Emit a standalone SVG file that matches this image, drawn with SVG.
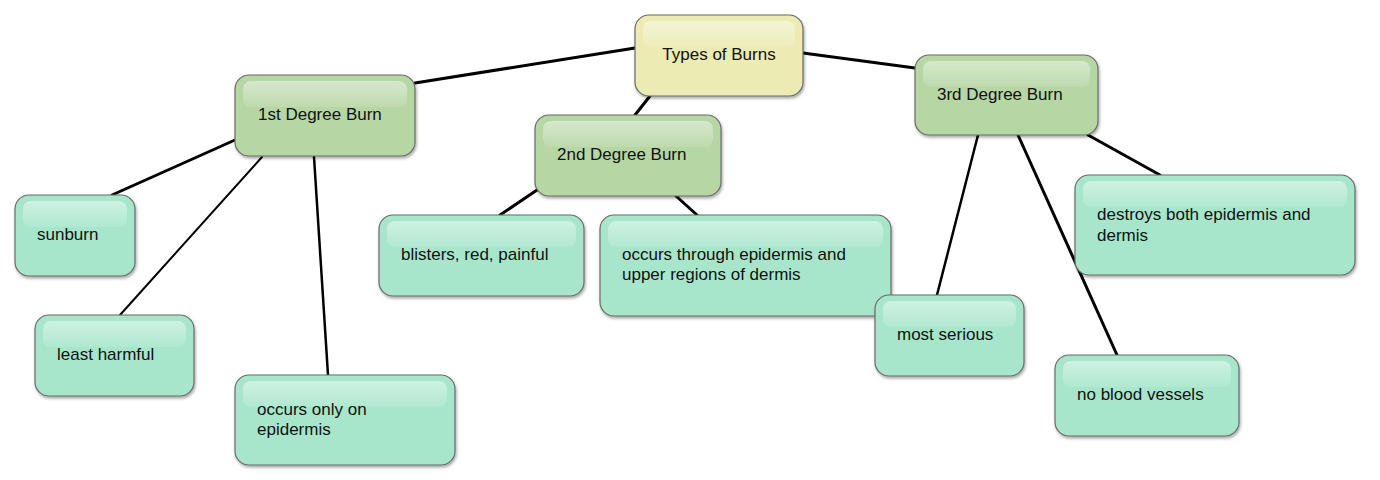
<svg xmlns="http://www.w3.org/2000/svg" width="1380" height="480" viewBox="0 0 1380 480">
<defs>
<linearGradient id="gl" x1="0" y1="0" x2="0" y2="1"><stop offset="0" stop-color="#fff" stop-opacity="0.45"/><stop offset="1" stop-color="#fff" stop-opacity="0.1"/></linearGradient>
<filter id="sh" x="-10%" y="-10%" width="130%" height="140%"><feDropShadow dx="1" dy="2" stdDeviation="1.5" flood-opacity="0.35"/></filter>
</defs>
<style>
.n{stroke:#6b6b6b;stroke-width:1.2;filter:url(#sh)}
.r{fill:#ecebb3}.m{fill:#b6d6a4}.l{fill:#a8e6cb}
.g{fill:url(#gl)}
text{font-family:"Liberation Sans",Arial,sans-serif;font-size:17px;fill:#111}
#c line{stroke:#000;stroke-width:3;stroke-linecap:round}
</style>
<rect width="1380" height="480" fill="#fff"/>
<g id="c">
<line x1="635" y1="48" x2="415" y2="83"/>
<line x1="803" y1="53" x2="915" y2="68"/>
<line x1="650" y1="96" x2="635" y2="115"/>
<line x1="235" y1="140" x2="112" y2="195" stroke-width="2.5"/>
<line x1="262" y1="157" x2="120" y2="315" style="stroke-width:2"/>
<line x1="314" y1="157" x2="328" y2="375" style="stroke-width:2.5"/>
<line x1="540" y1="188" x2="500" y2="215"/>
<line x1="676" y1="196" x2="697" y2="215"/>
<line x1="978" y1="135" x2="937" y2="295" style="stroke-width:2.5"/>
<line x1="1018" y1="135" x2="1117" y2="355"/>
<line x1="1088" y1="135" x2="1160" y2="175"/>
</g>
<g id="root"><rect class="n r" x="635" y="15" width="168" height="81" rx="14"/><rect class="g" x="643" y="21" width="152" height="26" rx="8"/><text x="719" y="60" text-anchor="middle">Types of Burns</text></g>
<g id="first"><rect class="n m" x="235" y="75" width="180" height="81" rx="14"/><rect class="g" x="243" y="81" width="164" height="26" rx="8"/><text x="258" y="120">1st Degree Burn</text></g>
<g id="second"><rect class="n m" x="535" y="115" width="186" height="81" rx="14"/><rect class="g" x="543" y="121" width="170" height="26" rx="8"/><text x="557" y="160">2nd Degree Burn</text></g>
<g id="third"><rect class="n m" x="915" y="55" width="183" height="80" rx="14"/><rect class="g" x="923" y="61" width="167" height="26" rx="8"/><text x="937" y="100">3rd Degree Burn</text></g>
<g id="sunburn"><rect class="n l" x="15" y="195" width="120" height="81" rx="14"/><rect class="g" x="23" y="201" width="104" height="26" rx="8"/><text x="37" y="240">sunburn</text></g>
<g id="least"><rect class="n l" x="35" y="315" width="159" height="81" rx="14"/><rect class="g" x="43" y="321" width="143" height="26" rx="8"/><text x="57" y="360">least harmful</text></g>
<g id="only"><rect class="n l" x="235" y="375" width="220" height="90" rx="14"/><rect class="g" x="243" y="381" width="204" height="26" rx="8"/><text x="257" y="415">occurs only on</text><text x="257" y="435">epidermis</text></g>
<g id="blisters"><rect class="n l" x="379" y="215" width="205" height="81" rx="14"/><rect class="g" x="387" y="221" width="189" height="26" rx="8"/><text x="401" y="260">blisters, red, painful</text></g>
<g id="through"><rect class="n l" x="600" y="215" width="291" height="101" rx="14"/><rect class="g" x="608" y="221" width="275" height="26" rx="8"/><text x="622" y="260">occurs through epidermis and</text><text x="622" y="280">upper regions of dermis</text></g>
<g id="serious"><rect class="n l" x="875" y="295" width="149" height="81" rx="14"/><rect class="g" x="883" y="301" width="133" height="26" rx="8"/><text x="897" y="340">most serious</text></g>
<g id="destroys"><rect class="n l" x="1075" y="175" width="280" height="100" rx="14"/><rect class="g" x="1083" y="181" width="264" height="26" rx="8"/><text x="1097" y="220">destroys both epidermis and</text><text x="1097" y="241">dermis</text></g>
<g id="blood"><rect class="n l" x="1055" y="355" width="184" height="81" rx="14"/><rect class="g" x="1063" y="361" width="168" height="26" rx="8"/><text x="1077" y="400">no blood vessels</text></g>
</svg>
